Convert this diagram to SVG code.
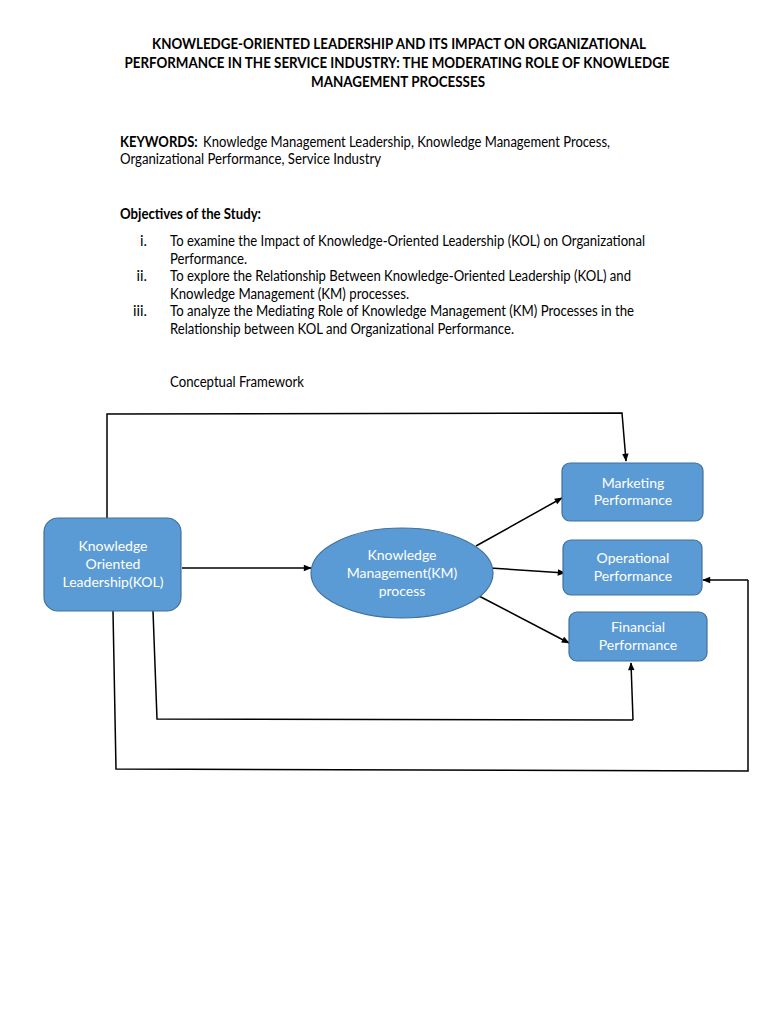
<svg xmlns="http://www.w3.org/2000/svg" width="768" height="1024" viewBox="0 0 768 1024">
<defs>
<style>
text{font-family:Lato,"Open Sans","Liberation Sans",sans-serif;fill:#000}
.t{font-size:15.5px;font-weight:bold;text-anchor:middle}
.b{font-size:14.6px}
.bb{font-size:14.6px;font-weight:bold}
.n{font-size:14.6px;text-anchor:end}
.w{font-size:14px;fill:#fff;text-anchor:middle}
.box{fill:#5b9bd5;stroke:#41719c;stroke-width:1.2}
.ln{fill:none;stroke:#000;stroke-width:1.5}
.ar{fill:none;stroke:#000;stroke-width:1.5;marker-end:url(#ah)}
</style>
<marker id="ah" viewBox="0 0 10 10" refX="9" refY="5" markerWidth="9" markerHeight="8" orient="auto" markerUnits="userSpaceOnUse"><path d="M0,1 L10,5 L0,9 z" fill="#000"/></marker>
</defs>
<rect width="768" height="1024" fill="#fff"/>
<g id="title">
<text class="t" x="399" y="49" textLength="494" lengthAdjust="spacingAndGlyphs">KNOWLEDGE-ORIENTED LEADERSHIP AND ITS IMPACT ON ORGANIZATIONAL</text>
<text class="t" x="397" y="68" textLength="545" lengthAdjust="spacingAndGlyphs">PERFORMANCE IN THE SERVICE INDUSTRY: THE MODERATING ROLE OF KNOWLEDGE</text>
<text class="t" x="398" y="87" textLength="174" lengthAdjust="spacingAndGlyphs">MANAGEMENT PROCESSES</text>
</g>
<g id="keywords">
<text class="b" x="120" y="147" textLength="490" lengthAdjust="spacingAndGlyphs"><tspan font-weight="bold">KEYWORDS:</tspan><tspan dx="6">Knowledge Management Leadership, Knowledge Management Process,</tspan></text>
<text class="b" x="120" y="164" textLength="261" lengthAdjust="spacingAndGlyphs">Organizational Performance, Service Industry</text>
</g>
<g id="objectives">
<text class="bb" x="120" y="219" textLength="141" lengthAdjust="spacingAndGlyphs">Objectives of the Study:</text>
<text class="n" x="147" y="246">i.</text>
<text class="b" x="170" y="246" textLength="475" lengthAdjust="spacingAndGlyphs">To examine the Impact of Knowledge-Oriented Leadership (KOL) on Organizational</text>
<text class="b" x="170" y="264" textLength="77" lengthAdjust="spacingAndGlyphs">Performance.</text>
<text class="n" x="147" y="281">ii.</text>
<text class="b" x="170" y="281" textLength="461" lengthAdjust="spacingAndGlyphs">To explore the Relationship Between Knowledge-Oriented Leadership (KOL) and</text>
<text class="b" x="170" y="299" textLength="239" lengthAdjust="spacingAndGlyphs">Knowledge Management (KM) processes.</text>
<text class="n" x="147" y="316">iii.</text>
<text class="b" x="170" y="316" textLength="464" lengthAdjust="spacingAndGlyphs">To analyze the Mediating Role of Knowledge Management (KM) Processes in the</text>
<text class="b" x="170" y="334" textLength="344" lengthAdjust="spacingAndGlyphs">Relationship between KOL and Organizational Performance.</text>
<text class="b" x="170" y="387" textLength="134" lengthAdjust="spacingAndGlyphs">Conceptual Framework</text>
</g>
<g id="connectors">
<polyline class="ar" points="107,518 107,414 622,413 626,461"/>
<line class="ar" x1="182" y1="568" x2="311" y2="568"/>
<line class="ar" x1="476" y1="546" x2="562" y2="498"/>
<line class="ar" x1="490" y1="568" x2="565" y2="573"/>
<line class="ar" x1="479" y1="596" x2="569" y2="643"/>
<polyline class="ln" points="153,611 157,719 633,720" stroke="#444"/>
<line class="ar" x1="633" y1="720" x2="631" y2="663"/>
<polyline class="ln" points="113,611 116,769 748,771 748,580"/>
<line class="ar" x1="748" y1="580" x2="703" y2="580"/>
</g>
<g id="kol">
<rect class="box" x="44" y="518" width="137" height="93" rx="14"/>
<text class="w" x="113" y="551">Knowledge</text>
<text class="w" x="113" y="569">Oriented</text>
<text class="w" x="113" y="587">Leadership(KOL)</text>
</g>
<g id="km">
<ellipse class="box" cx="402" cy="573" rx="91" ry="45"/>
<text class="w" x="402" y="560">Knowledge</text>
<text class="w" x="402" y="578">Management(KM)</text>
<text class="w" x="402" y="596">process</text>
</g>
<g id="marketing">
<rect class="box" x="562" y="463" width="141" height="58" rx="8"/>
<text class="w" x="633" y="488">Marketing</text>
<text class="w" x="633" y="505">Performance</text>
</g>
<g id="operational">
<rect class="box" x="563" y="540" width="139" height="55" rx="8"/>
<text class="w" x="633" y="563">Operational</text>
<text class="w" x="633" y="581">Performance</text>
</g>
<g id="financial">
<rect class="box" x="569" y="612" width="138" height="49" rx="8"/>
<text class="w" x="638" y="632">Financial</text>
<text class="w" x="638" y="650">Performance</text>
</g>
</svg>
